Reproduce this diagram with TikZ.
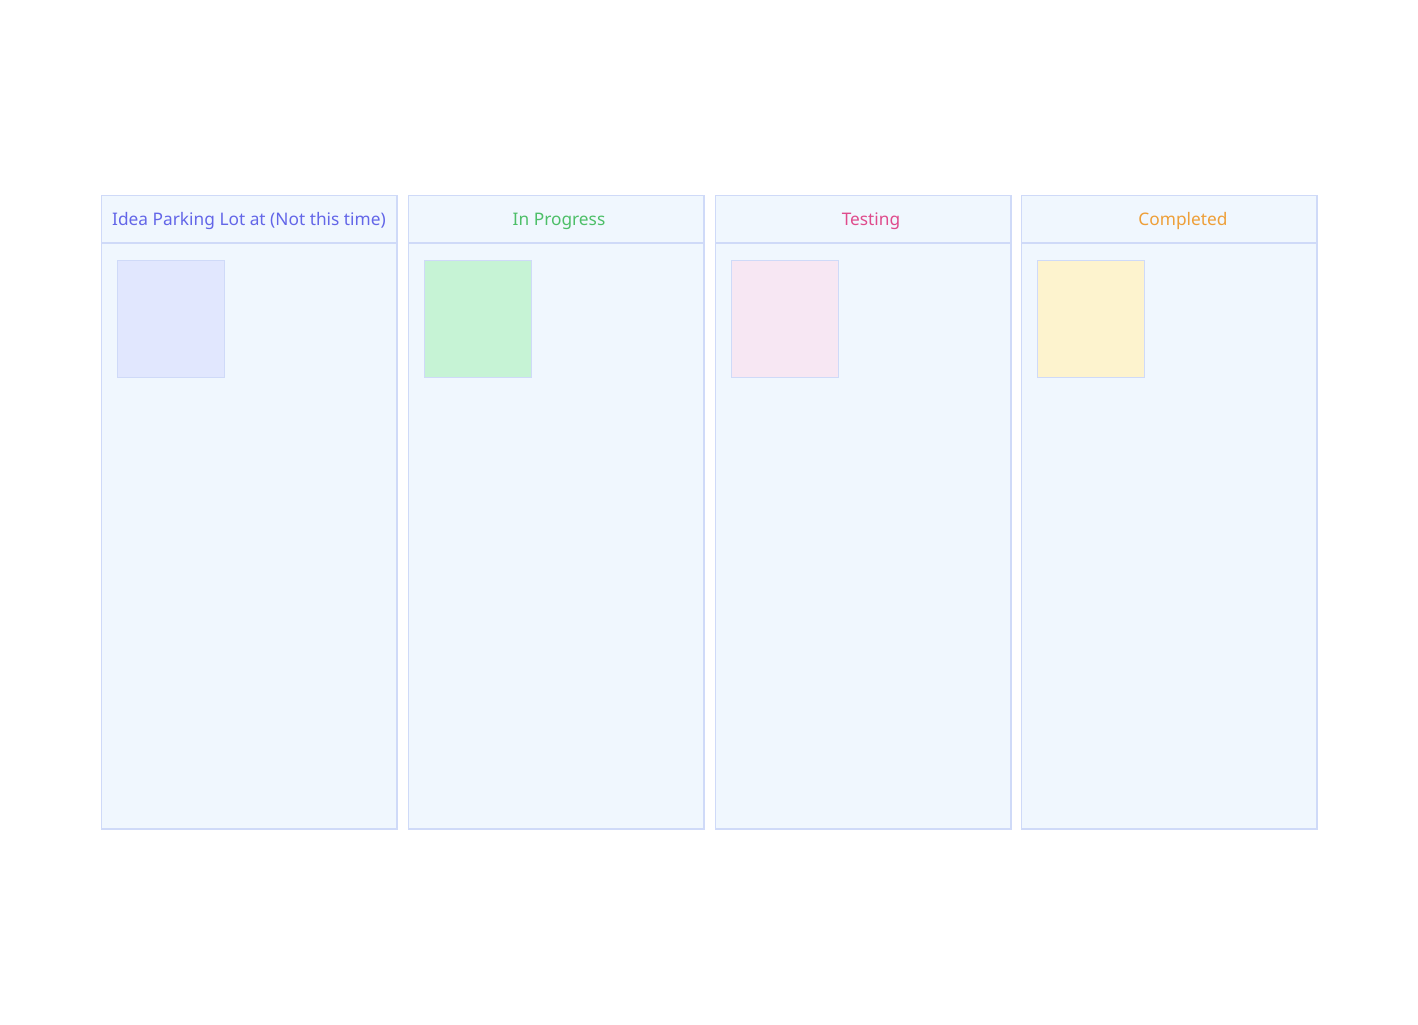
\documentclass[tikz,border=0pt]{standalone}
\usepackage{fontspec}
\setmainfont{Noto Sans}
\usetikzlibrary{positioning}
\definecolor{colfill}{HTML}{F0F7FE}
\definecolor{colline}{HTML}{CFDAF8}
\definecolor{idea}{HTML}{6366E8}
\definecolor{prog}{HTML}{4DBF68}
\definecolor{test}{HTML}{DF4B8C}
\definecolor{done}{HTML}{EE9F38}
\definecolor{ideanote}{HTML}{E1E7FE}
\definecolor{prognote}{HTML}{C6F3D5}
\definecolor{testnote}{HTML}{F7E7F3}
\definecolor{donenote}{HTML}{FDF3CE}
\begin{document}
\begin{tikzpicture}[x=0.5pt,y=-0.5pt,
  column/.style={draw=colline,fill=colfill,line width=0.7pt,minimum width=147.7pt,minimum height=316.7pt,inner sep=0pt,anchor=north west},
  note/.style={draw=colline,line width=0.5pt,minimum width=53.7pt,minimum height=58.7pt,inner sep=0pt,anchor=north west},
  title/.style={font=\fontsize{8.65}{10}\selectfont}]
\useasboundingbox[fill=white] (0,0) rectangle (1418,1024);
%columns
\node[column] (c1) at (101,195) {};
\node[column] (c2) at (408,195) {};
\node[column] (c3) at (715,195) {};
\node[column] (c4) at (1021,195) {};
\draw[colline,line width=0.7pt] (c1.west |- 0,243) -- (c1.east |- 0,243);
\draw[colline,line width=0.7pt] (c2.west |- 0,243) -- (c2.east |- 0,243);
\draw[colline,line width=0.7pt] (c3.west |- 0,243) -- (c3.east |- 0,243);
\draw[colline,line width=0.7pt] (c4.west |- 0,243) -- (c4.east |- 0,243);
%titles
\node[title,text=idea] (t1) at (249,221) {Idea Parking Lot at (Not this time)};
\node[title,text=prog] (t2) at (559,221) {In Progress};
\node[title,text=test] (t3) at (871,221) {Testing};
\node[title,text=done] (t4) at (1183,221) {Completed};
%sticky notes
\node[note,fill=ideanote] (n1) at (117,260) {};
\node[note,fill=prognote] (n2) at (424,260) {};
\node[note,fill=testnote] (n3) at (731,260) {};
\node[note,fill=donenote] (n4) at (1037,260) {};
\end{tikzpicture}
\end{document}
